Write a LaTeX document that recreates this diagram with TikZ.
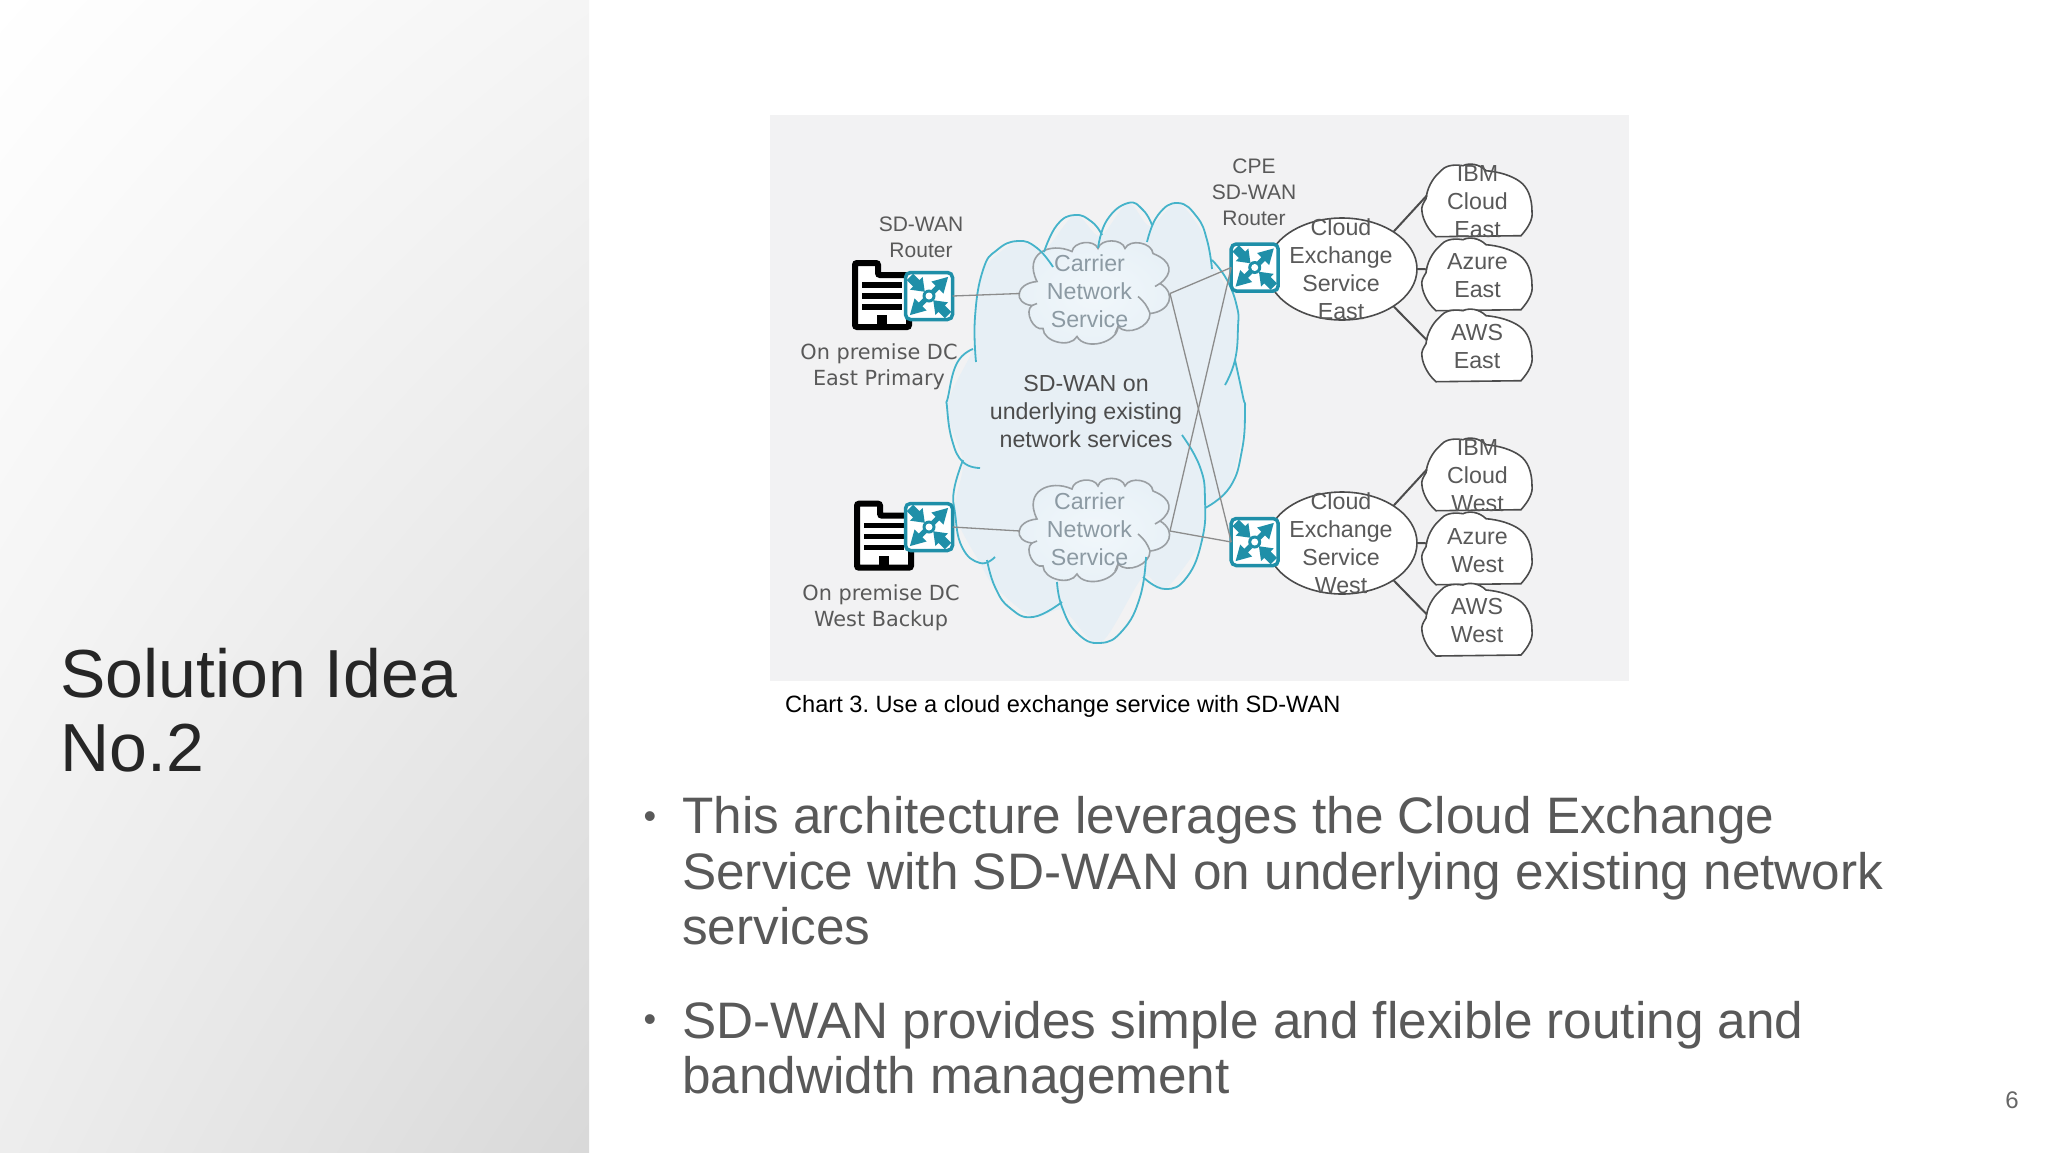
\documentclass[tikz,border=0pt]{standalone}
\usepackage{fontspec}
\setmainfont{Liberation Sans}
\newfontfamily\dcfont{DejaVu Sans}
\usetikzlibrary{shapes.geometric,shadings,}
\definecolor{routerteal}{HTML}{1F8FA8}
\definecolor{arcteal}{HTML}{45B3CA}
\definecolor{bodygrey}{HTML}{595959}
\definecolor{chartgrey}{HTML}{F2F2F3}
\definecolor{cloudblue}{HTML}{E7EFF5}
\definecolor{carrierin}{HTML}{F1F7FB}
\definecolor{carrierout}{HTML}{E8F1F7}
\definecolor{carrierline}{HTML}{9A9FA3}
\definecolor{carriertext}{HTML}{8C9AA3}
\tikzset{
    lbl/.style={inner sep=0,align=center,text=bodygrey,font=\fontsize{23.2}{28}\selectfont},
    toplbl/.style={lbl,font=\fontsize{21}{26}\selectfont},
    dclbl/.style={lbl,font=\dcfont\fontsize{20.8}{26}\selectfont},
    carriertxt/.style={lbl,text=carriertext},
    bodytxt/.style={inner sep=0,anchor=west,align=left,text=bodygrey,font=\fontsize{51.3}{55.5}\selectfont},
    dot/.style={inner sep=0,text=bodygrey,font=\fontsize{36}{36}\selectfont},
    arc/.style={arcteal,line width=1.8pt,tension=0.8},
    link/.style={draw=black!45,line width=1.3pt},
    svclink/.style={draw=black!70,line width=2pt},
    exchbox/.style={ellipse,draw=black!70,fill=white,line width=1.6pt,inner sep=0,minimum width=150pt,minimum height=102pt},
    routerbox/.style={draw=routerteal,fill=white,line width=3.5pt,rounded corners=5pt,inner sep=0,outer sep=0,minimum size=47pt},
    router/.pic={
        \node[routerbox] (#1) at (0,0) {};
        \foreach \a in {45,225} {
            \fill[routerteal,rotate=\a] (6,-2.5) -- (12,-2.5) -- (12,-8.5) -- (27,0) -- (12,8.5) -- (12,2.5) -- (6,2.5) -- cycle;
        }
        \foreach \a in {135,315} {
            \fill[routerteal,rotate=\a] (27,-4.5) -- (18,-4.5) -- (18,-9) -- (6,0) -- (18,9) -- (18,4.5) -- (27,4.5) -- cycle;
        }
        \fill[routerteal] (0,0) circle (6.5pt);
        \fill[white] (0,0) circle (3.5pt);
    },
    building/.pic={
        \draw[line width=6pt,fill=white,rounded corners=2pt] (-27,-32) -- (-4,-32) -- (-4,-20) -- (27,-20) -- (27,32) -- (-27,32) -- cycle;
        \foreach \y in {-10,1,12} {
            \draw[line width=5.5pt] (-20,\y) -- (20,\y);
        }
        \fill (-5,20) rectangle (5,32);
    },
    svc/.pic={
        \draw[draw=black!70,fill=white,line width=1.6pt] (-41,28) -- (44,27) .. controls (52,18) and (56,10) .. (55,3)
            .. controls (55,-12) and (50,-22) .. (43,-27) .. controls (35,-33) and (22,-37) .. (9,-38)
            .. controls (2,-45) and (-8,-46) .. (-14,-43) .. controls (-26,-45) and (-33,-42) .. (-37,-37)
            .. controls (-45,-30) and (-50,-20) .. (-51,-10) .. controls (-54,-5) and (-56,-2) .. (-55,3)
            .. controls (-54,12) and (-48,22) .. (-41,28) -- cycle;
        \node[inner sep=0,outer sep=0,minimum width=100pt,minimum height=71pt] (#1) at (0,0) {};
    },
    carrier/.pic={
        \draw[shade,inner color=carrierin,outer color=carrierout,draw=carrierline,line width=1.6pt]
            (-52,35) to[bend left=80] (-63,12) .. controls (-82,10) and (-80,-10) .. (-58,-12) .. controls (-72,-40) and (-45,-52) .. (-23,-42)
            to[bend left=75] (3,-45) to[bend left=75] (30,-45) to[bend left=75] (58,-40)
            .. controls (78,-32) and (78,-20) .. (65,-10) .. controls (82,0) and (75,18) .. (55,20)
            to[bend left=70] (23,33) to[bend left=75] (-18,43) to[bend left=75] (-52,35) -- cycle;
        \draw[draw=carrierline,line width=1.6pt] (43,3) to[bend left=15] (55,20);
        \draw[draw=carrierline,line width=1.6pt] (65,-10) -- (60,-7);
        \draw[draw=carrierline,line width=1.6pt] (-63,12) -- (-58,10);
        \draw[draw=carrierline,line width=1.6pt] (23,33) -- (20,40);
        \node[inner sep=0,outer sep=0,minimum width=150pt,minimum height=103pt] (#1) at (0,0) {};
    }
}
\begin{document}
\frenchspacing
\begin{tikzpicture}[x=1pt,y=-1pt]
    \useasboundingbox (0,0) rectangle (2048,1152);
    \fill[white] (0,0) rectangle (2048,1152);
    \shade[upper left=white,upper right=black!4,lower left=black!7,lower right=black!15] (0,0) rectangle (589,1152);
    \fill[chartgrey] (770,115) rectangle (1629,681);
    \fill[cloudblue] plot[smooth cycle] coordinates {(1018,241) (1044,250) (1075,215) (1100,236) (1128,203) (1150,226) (1178,203) (1207,240) (1212,262) (1237,307) (1238,327) (1235,360) (1245,410) (1230,487) (1205,508) (1202,540) (1165,589) (1143,577) (1100,643) (1063,610) (1033,617) (995,587) (980,563) (955,513) (963,462) (947,407) (973,349) (975,317) (983,270)};
    \draw (1095,293.5) pic {carrier=carrierE};
    \draw (1095,531) pic {carrier=carrierW};
    \draw[arc] plot[smooth] coordinates {(1053,267) (1037,248) (1018,241) (997,250) (983,270) (975,317) (976,362)};
    \draw[arc] plot[smooth] coordinates {(1044,252) (1057,225) (1075,215) (1092,222) (1102,235)};
    \draw[arc] plot[smooth] coordinates {(1098,248) (1107,220) (1128,203) (1143,210) (1152,225)};
    \draw[arc] plot[smooth] coordinates {(1147,242) (1158,215) (1178,203) (1197,217) (1207,240) (1212,269)};
    \draw[arc] plot[smooth] coordinates {(1212,260) (1227,280) (1237,307) (1238,327) (1235,360) (1225,385)};
    \draw[arc] plot[smooth] coordinates {(1235,360) (1243,397) (1245,410) (1242,450) (1230,487) (1205,508)};
    \draw[arc] plot[smooth] coordinates {(1182,435) (1200,467) (1205,500) (1202,540) (1187,577) (1165,589) (1143,577)};
    \draw[arc] plot[smooth] coordinates {(1146,557) (1140,597) (1123,630) (1100,643) (1077,633) (1062,607) (1057,582)};
    \draw[arc] plot[smooth] coordinates {(1062,602) (1033,617) (1010,608) (995,587) (987,560)};
    \draw[arc] plot[smooth] coordinates {(995,557) (980,563) (962,547) (955,513) (954,490) (963,460)};
    \draw[arc] plot[smooth] coordinates {(980,468) (963,462) (952,440) (947,407) (948,397) (957,363) (973,349)};
    \node[exchbox] (exchE) at (1342,269) {};
    \node[exchbox] (exchW) at (1342,543) {};
    \draw (882,295) pic {building};
    \draw (884,535.7) pic {building};
    \draw (929,296) pic {router=rtrE};
    \draw (929,527) pic {router=rtrW};
    \draw (1254.7,267.5) pic {router=cpeE};
    \draw (1254.7,542) pic {router=cpeW};
    \draw (1477,208.7) pic {svc=ibmE};
    \draw (1477,282.7) pic {svc=azureE};
    \draw (1477,353.7) pic {svc=awsE};
    \draw (1477,482.7) pic {svc=ibmW};
    \draw (1477,556.7) pic {svc=azureW};
    \draw (1477,628) pic {svc=awsW};
    \draw[link] (rtrE.east) -- (carrierE.west);
    \draw[link] (rtrW.east) -- (carrierW.west);
    \draw[link] (carrierE.east) -- (cpeE.west);
    \draw[link] (carrierE.east) -- (cpeW.west);
    \draw[link] (carrierW.east) -- (cpeE.west);
    \draw[link] (carrierW.east) -- (cpeW.west);
    \draw[svclink] (exchE.36) -- (ibmE.165);
    \draw[svclink] (exchE.east) -- (azureE.165);
    \draw[svclink] (exchE.-36) -- (awsE.165);
    \draw[svclink] (exchW.36) -- (ibmW.165);
    \draw[svclink] (exchW.east) -- (azureW.165);
    \draw[svclink] (exchW.-36) -- (awsW.165);
    \node[lbl,text=black!70] (cloudtxt) at (1086,412) {SD-WAN on\\underlying existing\\network services};
    \node[carriertxt] (carrierEtxt) at (1089.5,291) {Carrier\\Network\\Service};
    \node[carriertxt] (carrierWtxt) at (1089.5,529) {Carrier\\Network\\Service};
    \node[toplbl] (rtrElbl) at (921,237.5) {SD-WAN\\Router};
    \node[toplbl] (cpeElbl) at (1254,192.5) {CPE\\SD-WAN\\Router};
    \node[dclbl] (dcE) at (879,367) {On premise DC\\East Primary};
    \node[dclbl] (dcW) at (881,608) {On premise DC\\West Backup};
    \node[lbl] (exchEtxt) at (1341,269) {Cloud\\Exchange\\Service\\East};
    \node[lbl] (exchWtxt) at (1341,543) {Cloud\\Exchange\\Service\\West};
    \node[lbl] (ibmEtxt) at (1477.5,202) {IBM\\Cloud\\East};
    \node[lbl] (azureEtxt) at (1477.5,276) {Azure\\East};
    \node[lbl] (awsEtxt) at (1477,347) {AWS\\East};
    \node[lbl] (ibmWtxt) at (1477.5,476) {IBM\\Cloud\\West};
    \node[lbl] (azureWtxt) at (1477.5,551) {Azure\\West};
    \node[lbl] (awsWtxt) at (1477,621) {AWS\\West};
    \node[inner sep=0,anchor=west,font=\fontsize{23.6}{28}\selectfont] (caption) at (785,706) {Chart 3. Use a cloud exchange service with SD-WAN};
    \node[inner sep=0,anchor=west,align=left,text=black!85,font=\fontsize{68}{73.5}\selectfont] (title) at (60,710) {Solution Idea\\No.2};
    \node[dot] (dotA) at (650,820) {\textbullet};
    \node[dot] (dotB) at (650,1023) {\textbullet};
    \node[bodytxt] (bodyA) at (682,871) {This architecture leverages the Cloud Exchange\\Service with SD-WAN on underlying existing network\\services};
    \node[bodytxt] (bodyB) at (682,1052.5) {SD-WAN provides simple and flexible routing and\\bandwidth management};
    \node[inner sep=0,text=black!60,font=\fontsize{24}{24}\selectfont] (pageno) at (2012,1100) {6};
\end{tikzpicture}
\end{document}
